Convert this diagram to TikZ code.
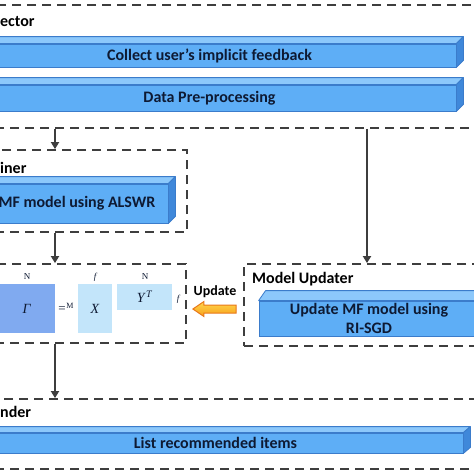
\documentclass[tikz,border=0pt]{standalone}
\usepackage{fontspec}
\setmainfont{Carlito}
\newfontfamily\serifsm{Liberation Serif}
\usetikzlibrary{arrows.meta,calc}
\definecolor{frontc}{HTML}{5EAEF6}
\definecolor{topc}{HTML}{8CC8FB}
\definecolor{sidec}{HTML}{3F88DA}
\definecolor{edgec}{HTML}{3B7CCB}
\definecolor{dashc}{HTML}{3E3E3E}
\definecolor{txtc}{HTML}{0E1A33}
\definecolor{gammac}{HTML}{80AAF0}
\definecolor{lightc}{HTML}{C3E5FA}
\definecolor{ortop}{HTML}{FFD64D}
\definecolor{orbot}{HTML}{F7A01A}
\definecolor{ordraw}{HTML}{E9781A}
\newcommand\slabfaces[3]{%
  \filldraw[fill=topc, draw=edgec, line width=0.8pt, line join=round]
    (#1.north west) -- ++(#2,-#3) -- ($(#1.north east)+(#2,-#3)$) -- (#1.north east) -- cycle;
  \filldraw[fill=sidec, draw=edgec, line width=0.8pt, line join=round]
    (#1.north east) -- ++(#2,-#3) -- ($(#1.south east)+(#2,-#3)$) -- (#1.south east) -- cycle;}
\begin{document}
\begin{tikzpicture}[x=1pt,y=-1pt,
  container/.style={draw=dashc, line width=1.8pt, dash pattern=on 9pt off 6pt, inner sep=0pt, rectangle},
  slab/.style={draw=edgec, line width=0.8pt, fill=frontc, inner sep=0pt, font=\fontsize{16}{19}\selectfont\bfseries, text=txtc, align=center},
  title/.style={anchor=west, inner sep=0pt, font=\fontsize{16}{18}\selectfont\bfseries, text=black},
  flow/.style={draw=dashc, line width=2pt, -{Triangle[length=7pt,width=8pt]}},
  dim/.style={inner sep=0pt, font=\serifsm\fontsize{9}{9}\selectfont, text=txtc},
  mat/.style={inner sep=0pt, text=txtc, font=\serifsm\itshape\fontsize{14}{14}\selectfont},
  uparrow/.style={draw=ordraw, line width=1pt, line join=miter, top color=ortop, bottom color=orbot},
]
\useasboundingbox (0,0) rectangle (474,474);
\clip (0,0) rectangle (474,474);
\fill[white] (0,0) rectangle (474,474);

% containers
\node[container, minimum width=514pt, minimum height=123pt] (collector) at (237,66.5) {};
\node[container, minimum width=207pt, minimum height=82pt] (trainer) at (83.5,191) {};
\node[container, minimum width=206pt, minimum height=79pt] (model) at (83,303.5) {};
\node[container, minimum width=250pt, minimum height=82pt] (updater) at (369,305) {};
\node[container, minimum width=514pt, minimum height=70pt] (recommender) at (237,434) {};

% titles
\node[title] (tcol) at (0,22) {ector};
\node[title] (ttra) at (0,168) {iner};
\node[title] (tupd) at (252,279) {Model Updater};
\node[title] (trec) at (0,412) {nder};

% 3D slabs
\node[slab, minimum width=493pt, minimum height=23pt] (collect) at (209.5,55.5) {Collect user’s implicit feedback};
\slabfaces{collect}{7}{7}
\node[slab, minimum width=493pt, minimum height=26pt] (prep) at (209.5,98) {Data Pre-processing};
\slabfaces{prep}{7}{7}
\node[slab, minimum width=182pt, minimum height=39pt] (alswr) at (77,203.5) {MF model using ALSWR};
\slabfaces{alswr}{7}{7}
\node[slab, minimum width=220pt, minimum height=35pt] (risgd) at (369,318.5) {Update MF model using\\RI-SGD};
\slabfaces{risgd}{7}{10}
\node[slab, minimum width=495pt, minimum height=20pt] (list) at (215.5,443) {List recommended items};
\slabfaces{list}{7}{6}

% matrix factorisation
\node[mat, fill=gammac, minimum width=57pt, minimum height=49pt] (gam) at (26.5,308.5) {Γ};
\node[mat, fill=lightc, minimum width=34pt, minimum height=49pt] (xm) at (95,308.5) {X};
\node[mat, fill=lightc, minimum width=55pt, minimum height=26pt] (ym) at (144.5,297) {Y\textsuperscript{\,\fontsize{10}{10}\selectfont T}};
\node[dim] (n1) at (27,277) {N};
\node[dim] (f1) at (95,277) {\itshape f};
\node[dim] (n2) at (145,277) {N};
\node[dim] (f2) at (178,299) {\itshape f};
\node[inner sep=0pt, text=txtc, font=\serifsm\fontsize{13}{13}\selectfont] (eq) at (62,310) {=};
\node[dim, font=\serifsm\fontsize{8}{8}\selectfont] (m1) at (70,306) {M};

% arrows
\coordinate (ca) at (55,0);
\coordinate (cb) at (367,0);
\draw[flow] (collector.south -| ca) -- (trainer.north -| ca);
\draw[flow] (trainer.south -| ca) -- (model.north -| ca);
\draw[flow] (model.south -| ca) -- (recommender.north -| ca);
\draw[flow] (collector.south -| cb) -- (updater.north -| cb);

% update arrow (from updater to model)
\coordinate (ut) at ($(model.east)+(6,5.5)$);
\coordinate (us) at ($(updater.west)+(-7,4)$);
\path[uparrow] (us) ++(0,-4) -- ($(ut)+(11,-4)$) -- ($(ut)+(11,-7.5)$) -- (ut)
   -- ($(ut)+(11,7.5)$) -- ($(ut)+(11,4)$) -- ($(us)+(0,4)$) -- cycle;
\node[inner sep=0pt, font=\fontsize{14}{14}\selectfont\bfseries, text=black] (ulbl) at (215,292) {Update};
\end{tikzpicture}
\end{document}
